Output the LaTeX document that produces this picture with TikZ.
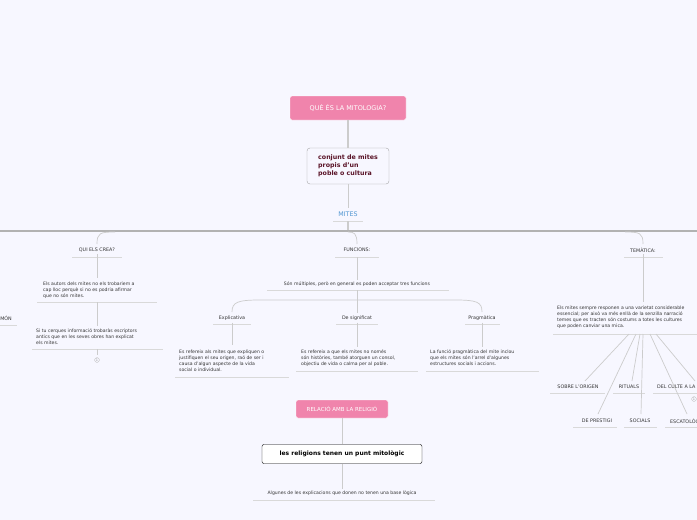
\documentclass[tikz,border=0pt]{standalone}
\usepackage{fontspec}
\setmainfont{DejaVu Sans}
\begin{document}
\begin{tikzpicture}[x=1pt,y=-1pt,
 tx/.style={font=\fontsize{4.6}{6}\selectfont, text=black!80, align=left, inner sep=1pt},
 lab/.style={font=\fontsize{4.8}{6}\selectfont, text=black!80, inner sep=2pt},
 ul/.style={draw=black!15, line width=0.8pt},
 ln/.style={draw=black!20, line width=0.7pt},
 pinkbox/.style={fill=magenta!45!pink!90!white, draw=white, rounded corners=2pt, text=white, font=\fontsize{6.5}{8}\selectfont, minimum height=18pt, inner xsep=6pt}]
\useasboundingbox (0,0) rectangle (697,520);
\fill[blue!3] (0,0) rectangle (697,520);
\clip (0,0) rectangle (697,520);
% title
\node[pinkbox, minimum width=116pt, minimum height=24pt, fill={rgb,255:red,240;green,132;blue,172}] (t) at (348,108) {QUÈ ÉS LA MITOLOGIA?};
\node[draw=black!35, fill=blue!3, rounded corners=3pt, minimum width=82pt, minimum height=36pt, align=left, font=\fontsize{6.3}{8}\selectfont\bfseries, text={rgb,255:red,90;green,20;blue,40}] (c) at (348,166) {conjunt de mites\\propis d'un\\poble o cultura};
\node[font=\fontsize{6.3}{8}\selectfont, text={rgb,255:red,80;green,150;blue,210}] (m) at (348,214) {MITES};
\draw[ul] (333,221)--(363,221);
\draw[ln, line width=1.2pt] (t)--(c); \draw[ln] (c)--(m);
\coordinate (hub) at (348,231);
\draw[ln,line width=1.2pt] (348,221)--(hub);
\draw[black!30, line width=1.2pt] (0,231)--(697,231);
% branches
\node[lab] (q) at (97,250) {QUI ELS CREA?}; \draw[ul] (72,257)--(122,257);
\node[lab] (f) at (357,250) {FUNCIONS:}; \draw[ul] (335,257)--(379,257);
\node[lab] (tm) at (643,250) {TEMÀTICA:}; \draw[ul] (624,257)--(663,257);
\draw[ln] (97,244) .. controls (97,233) and (100,232) .. (115,232);
\draw[ln] (357,244) .. controls (357,233) and (354,232) .. (348,232);
\draw[ln] (643,244) .. controls (643,233) and (640,232) .. (625,232);
% qui els crea
\node[tx, anchor=west] (q1) at (42,290) {Els autors dels mites no els trobariem a\\cap lloc perquè si no es podria afirmar\\que no són mites.};
\draw[ul] (37,302)--(157,302);
\node[tx, anchor=west] (q2) at (35,337) {Si tu cerques informació trobaràs escriptors\\antics que en les seves obres han explicat\\els mites.};
\draw[ul] (32,349)--(163,349);
\draw[ln] (q)--(97,278); \draw[ln] (97,302)--(97,326); \draw[ln] (97,349)--(97,355);
\node[draw=black!25, circle, inner sep=0.5pt, font=\fontsize{3.5}{4}\selectfont, text=black!40] (n1) at (97,360) {1};
\node[lab, anchor=east] (mon) at (14,318) {MÓN}; \draw[ul] (0,325)--(17,325);
% funcions
\node[tx] (s) at (357,284) {Són múltiples, però en general es poden acceptar tres funcions};
\draw[ul] (267,290)--(449,290);
\draw[ln] (357,257)--(s);
\node[lab] (e) at (232,318) {Explicativa}; \draw[ul] (213,324)--(251,324);
\node[lab] (d) at (357,318) {De significat}; \draw[ul] (336,324)--(378,324);
\node[lab] (p) at (482,318) {Pragmàtica}; \draw[ul] (465,324)--(500,324);
\draw[ln] (357,290)--(d);
\draw[ln] (232,312) .. controls (232,302) and (238,300) .. (260,300) -- (455,300) .. controls (477,300) and (482,302) .. (482,312);
\node[tx, anchor=west] (e1) at (178,361) {Es refereix als mites que expliquen o\\justifiquen el seu origen, raó de ser i\\causa d'algun aspecte de la vida\\social o individual.};
\draw[ul] (175,377)--(289,377);
\node[tx, anchor=west] (d1) at (300,358) {Es refereix a que els mites no només\\són històries, també atorguen un consol,\\objectiu de vida o calma per al poble.};
\draw[ul] (296,371)--(418,371);
\node[tx, anchor=west] (p1) at (429,358) {La funció pragmàtica del mite inclou\\que els mites són l'arrel d'algunes\\estructures socials i accions.};
\draw[ul] (426,371)--(539,371);
\draw[ln] (e)--(232,345); \draw[ln] (d)--(357,347); \draw[ln] (p)--(482,347);
% tematica
\node[tx, anchor=west] (tt) at (556,317) {Els mites sempre responen a una varietat considerable\\essencial; per això va més enllà de la senzilla narració\\temes que es tracten són costums a totes les cultures\\que poden canviar una mica.};
\draw[ul] (553,334)--(697,334);
\draw[ln] (tm)--(643,302);
\node[lab] (o) at (578,387) {SOBRE L'ORIGEN}; \draw[ul] (550,393)--(605,393);
\node[lab] (r) at (629,387) {RITUALS}; \draw[ul] (613,393)--(645,393);
\node[lab, anchor=west] (dc) at (655,387) {DEL CULTE A LA}; \draw[ul] (653,393)--(697,393);
\node[lab] (dp) at (597,421) {DE PRESTIGI}; \draw[ul] (573,427)--(617,427);
\node[lab] (so) at (640,421) {SOCIALS}; \draw[ul] (624,427)--(657,427);
\node[lab, anchor=west] (es) at (668,421) {ESCATOLÒGICS}; \draw[ul] (665,427)--(697,427);
\draw[ln] (629,334)--(585,381); \draw[ln] (636,334)--(598,414);
\draw[ln] (640,334)--(632,381); \draw[ln] (643,334)--(641,414);
\draw[ln] (650,334)--(687,414); \draw[ln] (656,334)--(695,381);
\node[draw=black!25, circle, inner sep=0.5pt, font=\fontsize{3.5}{4}\selectfont, text=black!40] (n2) at (694,399) {1};
% relacio
\node[pinkbox, minimum width=92pt, font=\fontsize{5.5}{7}\selectfont, fill={rgb,255:red,240;green,132;blue,172}] (rl) at (342,409) {RELACIÓ AMB LA RELIGIÓ};
\node[draw=black, fill=white, rounded corners=2pt, minimum width=160pt, minimum height=19pt, font=\fontsize{6}{8}\selectfont\bfseries] (rb) at (342,454) {les religions tenen un punt mitològic};
\node[tx] (al) at (342,493) {Algunes de les explicacions que donen no tenen una base lògica};
\draw[ul] (253,500)--(435,500);
\draw[ln] (rl)--(rb); \draw[ln] (rb)--(al);
\end{tikzpicture}
\end{document}
